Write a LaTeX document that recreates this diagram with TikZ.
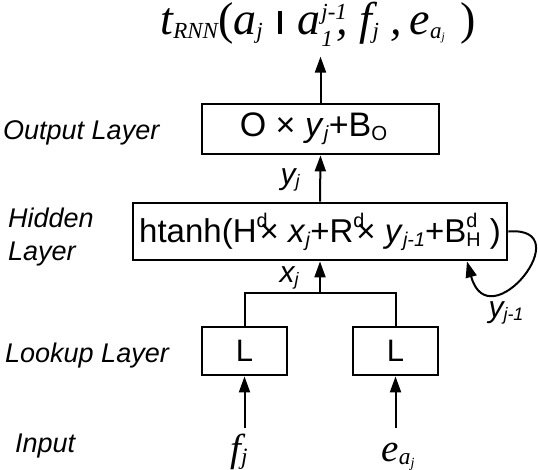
\documentclass[tikz,border=0pt]{standalone}
\usepackage{fontspec}
\setmainfont{Liberation Sans}
\newfontfamily\tnr{Liberation Serif}
\usetikzlibrary{arrows.meta}

% small raised / lowered indices
\newcommand\dn[1]{\raisebox{-.12em}{\scalebox{.6}{#1}}}
\newcommand\up[1]{\raisebox{.45em}{\scalebox{.6}{#1}}}
\newcommand\tsub[1]{\raisebox{-.1em}{\scalebox{.5}{#1}}}
\newcommand\isub[1]{\raisebox{-.1em}{\scalebox{.6}{#1}}}

\begin{document}
\begin{tikzpicture}
[x=1pt,y=-1pt,
box/.style={
  draw, line width=2.8pt, inner sep=0pt
},
arr/.style={
  line width=2pt, -{Triangle[length=16pt,width=11pt]}
},
line/.style={line width=2pt},
layerlabel/.style={
  anchor=base west, inner sep=0pt, font=\fontsize{27}{32}\selectfont\itshape
},
boxtext/.style={font=\fontsize{33}{36}\selectfont},
vars/.style={inner sep=0pt, font=\fontsize{30}{32}\selectfont\itshape},
bigvar/.style={inner sep=0pt, font=\fontsize{46}{48}\selectfont\tnr\itshape}
]
\useasboundingbox (0,0) rectangle (538,469);

% Title
\node[bigvar, anchor=base] (title) at (318,34)
  {t\tsub{RNN}{\upshape(}a\tsub{j}\,\,\rule{4pt}{.5em}\,\,a\kern1pt\rlap{\raisebox{.32em}{\scalebox{.5}{j-1}}}\raisebox{-.27em}{\scalebox{.5}{1}}\kern4pt, f\tsub{j} ,\,e\tsub{a\tsub{j}}\,\,{\upshape)}};

% Output Layer
\node[box, minimum width=237, minimum height=50, boxtext, font=\fontsize{34}{36}\selectfont] (out) at (320.5,129)
  {O × \textit{y}\dn{\textit{j}}+B\dn{O}\kern14pt};
\node[layerlabel] (outlabel) at (3,139) {Output Layer};

% Hidden Layer
\node[box, minimum width=374, minimum height=57, boxtext] (hid) at (320,231.5)
  {htanh(H\rlap{\up{d}}\kern3pt× \textit{x}\dn{\textit{j}}+R\rlap{\up{d}}\kern3pt× \textit{y}\dn{\textit{j-1}}+B\rlap{\up{d}}\dn{H} )};
\node[layerlabel] (hidlabel) at (8,227) {Hidden};
\node[layerlabel] (hidlabel2) at (8,260) {Layer};

% Lookup Layer
\node[box, minimum width=85, minimum height=48, boxtext, font=\fontsize{31}{33}\selectfont] (lookL) at (244.5,351) {L};
\node[box, minimum width=85, minimum height=48, boxtext, font=\fontsize{31}{33}\selectfont] (lookR) at (395.5,351) {L};
\node[layerlabel] (looklabel) at (5,362) {Lookup Layer};

% Input
\node[layerlabel] (inlabel) at (15,452) {Input};
\node[bigvar, anchor=base, font=\fontsize{39}{41}\selectfont\tnr\itshape] (fj) at (239,461) {f\isub{j}};
\node[bigvar, anchor=base, font=\fontsize{39}{41}\selectfont\tnr\itshape] (eaj) at (398,461) {e\isub{a\isub{j}}};

% connectors
\coordinate (jn) at (320,293);
\draw[line] (lookL.north) -- (lookL.north |- jn) -- (lookR.north |- jn) -- (lookR.north);
\draw[arr] (jn) -- (hid.south);
\draw[arr] (hid.north) -- (out.south);
\draw[arr] (out.north) -- ([yshift=-10pt]title.south -| out.north);
\draw[arr] ([yshift=5pt]fj.north -| lookL.south) -- (lookL.south);
\draw[arr] ([yshift=5pt]fj.north -| lookR.south) -- (lookR.south);
\draw[arr] (hid.east) .. controls +(73,-6) and +(22,80) .. ([xshift=147pt]hid.south);

% variable labels
\node[vars] (yj) at (290,180) {y\dn{j}};
\node[vars] (xj) at (289,278) {x\dn{j}};
\node[vars] (yj1) at (506,313) {y\dn{j-1}};

\end{tikzpicture}
\end{document}
